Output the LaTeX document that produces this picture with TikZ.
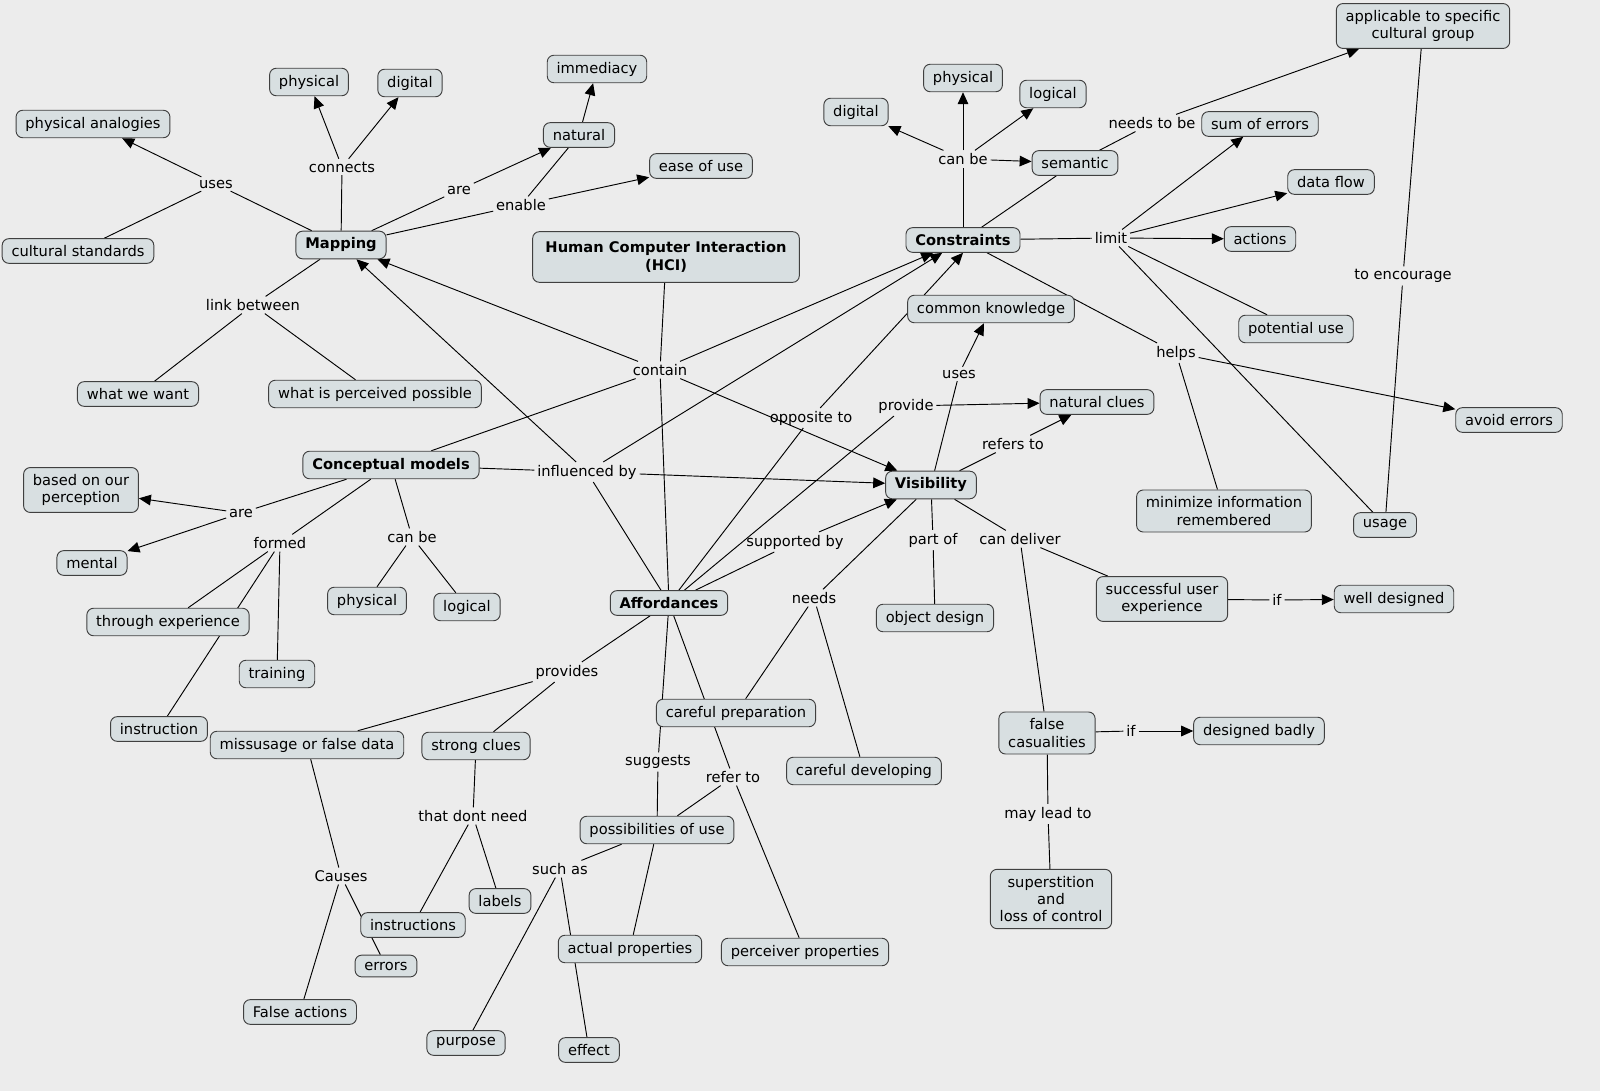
\documentclass[tikz,border=0pt]{standalone}
\usepackage{fontspec}
\setmainfont{DejaVu Sans}
\usetikzlibrary{arrows.meta,backgrounds}
\definecolor{bg}{HTML}{ECECEC}
\definecolor{nf}{HTML}{D8DFE1}
\begin{document}
\begin{tikzpicture}[x=0.75pt,y=-0.75pt,
  cn/.style={draw=black!75,fill=nf,rounded corners=5pt,font=\fontsize{11}{13}\selectfont,inner xsep=7pt,inner ysep=5pt,align=center,line width=0.7pt},
  bn/.style={cn,font=\fontsize{11}{13}\selectfont\bfseries},
  lb/.style={font=\fontsize{11}{13}\selectfont,inner sep=2pt},
  ln/.style={draw=black,line width=0.7pt},
  ar/.style={ln,-{Triangle[length=9pt,width=8pt]}}]
\useasboundingbox (0,0) rectangle (1600,1091);
% nodes
\node[bn,minimum width=200pt,minimum height=38pt] (hci) at (666,257) {Human Computer Interaction\\(HCI)};
\node[bn] (map) at (341,245) {Mapping};
\node[cn] (mphys) at (309,82) {physical};
\node[cn] (mdig) at (410,83) {digital};
\node[cn] (pan) at (93,124) {physical analogies};
\node[cn] (cst) at (78,251) {cultural standards};
\node[cn] (imm) at (597,69) {immediacy};
\node[cn] (nat) at (579,135) {natural};
\node[cn] (eou) at (701,166) {ease of use};
\node[lb] (uses1) at (216,184) {uses};
\node[lb] (conn) at (342,167) {connects};
\node[lb] (are1) at (459,190) {are};
\node[lb] (enab) at (521,205) {enable};
\node[lb] (linkb) at (253,305) {link between};
\node[cn] (www) at (138,394) {what we want};
\node[cn] (wpp) at (375,394) {what is perceived possible};
\node[bn] (cm) at (391,465) {Conceptual models};
\node[cn] (bop) at (81,490) {based on our\\perception};
\node[cn] (ment) at (92,563) {mental};
\node[lb] (are2) at (241,513) {are};
\node[lb] (form) at (280,543) {formed};
\node[lb] (canb1) at (412,537) {can be};
\node[cn] (cphys) at (367,601) {physical};
\node[cn] (clog) at (467,607) {logical};
\node[cn] (tex) at (168,622) {through experience};
\node[cn] (trn) at (277,674) {training};
\node[cn] (ins) at (159,729) {instruction};
\node[lb] (cont) at (660,370) {contain};
\node[lb] (infl) at (587,472) {influenced by};
\node[lb] (opp) at (811,418) {opposite to};
\node[lb] (prov) at (906,406) {provide};
\node[lb] (uses2) at (959,374) {uses};
\node[lb] (ref1) at (1013,444) {refers to};
\node[lb] (supp) at (795,542) {supported by};
\node[bn] (aff) at (669,603) {Affordances};
\node[lb] (provs) at (567,672) {provides};
\node[cn] (mis) at (307,745) {missusage or false data};
\node[cn] (scl) at (476,746) {strong clues};
\node[lb] (tdn) at (473,816) {that dont need};
\node[cn] (inss) at (413,925) {instructions};
\node[cn] (lab) at (500,901) {labels};
\node[lb] (caus) at (341,876) {Causes};
\node[cn] (err) at (386,966) {errors};
\node[cn] (fac) at (300,1012) {False actions};
\node[cn] (cprep) at (736,713) {careful preparation};
\node[lb] (sugg) at (658,762) {suggests};
\node[lb] (ref2) at (733,777) {refer to};
\node[cn] (pou) at (657,830) {possibilities of use};
\node[lb] (such) at (560,869) {such as};
\node[cn] (actp) at (630,949) {actual properties};
\node[cn] (perp) at (805,952) {perceiver properties};
\node[cn] (purp) at (466,1043) {purpose};
\node[cn] (eff) at (589,1050) {effect};
\node[lb] (need) at (814,598) {needs};
\node[cn] (cdev) at (864,771) {careful developing};
\node[bn] (vis) at (931,485) {Visibility};
\node[lb] (part) at (933,540) {part of};
\node[cn] (obj) at (935,618) {object design};
\node[lb] (cdel) at (1020,539) {can deliver};
\node[cn] (sue) at (1162,599) {successful user\\experience};
\node[lb] (if1) at (1277,600) {if};
\node[cn] (wd) at (1394,599) {well designed};
\node[cn] (fcas) at (1047,733) {false\\casualities};
\node[lb] (if2) at (1131,731) {if};
\node[cn] (db) at (1259,731) {designed badly};
\node[lb] (mlt) at (1048,814) {may lead to};
\node[cn] (sup) at (1051,899) {superstition\\and\\loss of control};
\node[cn] (ncl) at (1097,402) {natural clues};
\node[cn] (ckn) at (991,309) {common knowledge};
\node[bn] (con) at (963,240) {Constraints};
\node[lb] (canb2) at (963,159) {can be};
\node[cn] (kdig) at (856,112) {digital};
\node[cn] (kphys) at (963,78) {physical};
\node[cn] (klog) at (1053,94) {logical};
\node[cn] (sem) at (1075,163) {semantic};
\node[lb] (ntb) at (1152,123) {needs to be};
\node[cn] (app) at (1423,26) {applicable to specific\\cultural group};
\node[cn] (soe) at (1260,124) {sum of errors};
\node[lb] (lim) at (1111,238) {limit};
\node[cn] (df) at (1331,182) {data flow};
\node[cn] (act) at (1260,239) {actions};
\node[cn] (pot) at (1296,329) {potential use};
\node[lb] (help) at (1176,353) {helps};
\node[cn] (ave) at (1509,420) {avoid errors};
\node[cn] (mir) at (1224,511) {minimize information\\remembered};
\node[cn] (usg) at (1385,525) {usage};
\node[lb] (tenc) at (1403,276) {to encourage};
% edges
\begin{pgfonlayer}{background}
\fill[bg] (0,0) rectangle (1600,1091);
\draw[ln] (map)--(uses1); \draw[ar] (uses1)--(pan); \draw[ln] (cst)--(uses1);
\draw[ln] (map)--(conn); \draw[ar] (conn)--(mphys); \draw[ar] (conn)--(mdig);
\draw[ln] (map)--(are1); \draw[ar] (are1)--(nat); \draw[ar] (nat)--(imm);
\draw[ln] (map)--(enab); \draw[ar] (enab)--(eou); \draw[ln] (nat)--(enab);
\draw[ln] (map)--(linkb); \draw[ln] (linkb)--(www); \draw[ln] (linkb)--(wpp);
\draw[ln] (hci)--(cont); \draw[ar] (cont)--(map); \draw[ar] (cont)--(con);
\draw[ln] (cm)--(cont); \draw[ar] (cont)--(vis); \draw[ln] (cont)--(aff);
\draw[ln] (cm)--(infl); \draw[ln] (aff)--(infl); \draw[ar] (infl)--(vis);
\draw[ar] (infl)--(map); \draw[ar] (infl)--(con);
\draw[ln] (aff)--(opp); \draw[ar] (opp)--(con.south);
\draw[ln] (aff)--(prov); \draw[ar] (prov)--(ncl);
\draw[ln] (vis)--(uses2); \draw[ar] (uses2)--(ckn);
\draw[ln] (vis)--(ref1); \draw[ar] (ref1)--(ncl);
\draw[ln] (aff)--(supp); \draw[ar] (supp)--(vis);
\draw[ln] (cm)--(are2); \draw[ar] (are2)--(bop); \draw[ar] (are2)--(ment);
\draw[ln] (cm)--(form); \draw[ln] (form)--(tex); \draw[ln] (form)--(trn); \draw[ln] (form)--(ins);
\draw[ln] (cm)--(canb1); \draw[ln] (canb1)--(cphys); \draw[ln] (canb1)--(clog);
\draw[ln] (aff)--(provs); \draw[ln] (provs)--(mis); \draw[ln] (provs)--(scl);
\draw[ln] (scl)--(tdn); \draw[ln] (tdn)--(inss); \draw[ln] (tdn)--(lab);
\draw[ln] (mis)--(caus); \draw[ln] (caus)--(err); \draw[ln] (caus)--(fac);
\draw[ln] (aff)--(sugg); \draw[ln] (sugg)--(pou);
\draw[ln] (aff)--(ref2);
\draw[ln] (ref2)--(perp); \draw[ln] (ref2)--(pou);
\draw[ln] (vis)--(need); \draw[ln] (need)--(cprep); \draw[ln] (need)--(cdev);
\draw[ln] (pou)--(such); \draw[ln] (such)--(purp); \draw[ln] (such)--(eff); \draw[ln] (pou)--(actp);
\draw[ln] (vis)--(part); \draw[ln] (part)--(obj);
\draw[ln] (vis)--(cdel); \draw[ln] (cdel)--(sue); \draw[ln] (cdel)--(fcas);
\draw[ln] (sue)--(if1); \draw[ar] (if1)--(wd);
\draw[ln] (fcas)--(if2); \draw[ar] (if2)--(db);
\draw[ln] (fcas)--(mlt); \draw[ln] (mlt)--(sup);
\draw[ln] (con)--(canb2); \draw[ar] (canb2)--(kdig); \draw[ar] (canb2)--(kphys);
\draw[ar] (canb2)--(klog); \draw[ar] (canb2)--(sem); \draw[ln] (con)--(sem);
\draw[ln] (sem)--(ntb); \draw[ar] (ntb)--(app);
\draw[ln] (con)--(lim); \draw[ar] (lim)--(soe); \draw[ar] (lim)--(df); \draw[ar] (lim)--(act);
\draw[ln] (lim)--(pot); \draw[ln] (lim)--(usg);
\draw[ln] (con)--(help); \draw[ar] (help)--(ave); \draw[ln] (help)--(mir);
\draw[ln] (usg)--(tenc); \draw[ln] (tenc)--(app);
\end{pgfonlayer}
\end{tikzpicture}
\end{document}
